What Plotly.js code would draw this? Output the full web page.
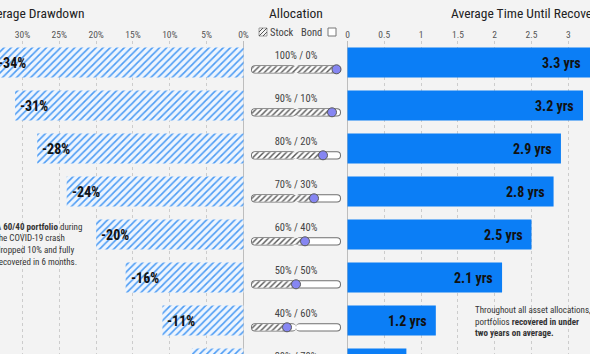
<!DOCTYPE html>
<html><head><meta charset="utf-8">
<script src="https://cdn.plot.ly/plotly-3.0.1.min.js"></script>
<style>
html,body{margin:0;padding:0;overflow:hidden;background:#f3f3f3;width:590px;height:354px;}
#chart{position:absolute;left:-200px;top:0;width:950px;height:540px;}
</style></head><body><div id="chart"></div>
<script>
// ---- data ----
const allocations = ['100% / 0%','90% / 10%','80% / 20%','70% / 30%','60% / 40%','50% / 50%','40% / 60%','30% / 70%'];
const stockShare = [100, 90, 80, 70, 60, 50, 40, 30];
const drawdown = [34, 31, 28, 24, 20, 16, 11, 7];
const recoveryYears = [3.3, 3.2, 2.9, 2.8, 2.5, 2.1, 1.2, 0.8];
const drawdownTicks = [30, 25, 20, 15, 10, 5, 0];
const drawdownTickText = ['30%','25%','20%','15%','10%','5%','0%'];
const recoveryTicks = [0, 0.5, 1, 1.5, 2, 2.5, 3, 3.5];
const recoveryTickText = ['0','0.5','1','1.5','2','2.5','3','3.5'];
const fullShare = 100;

// ---- geometry ----
const OFF = 200, W = 950, H = 540;
const TOP = 41, ROWH = 43, NSLOT = 11;
const PH = NSLOT * ROWH;
const fx = vx => (vx + OFF) / W;
const fy = vy => (TOP + PH - vy) / PH;
const aL = 7.367, zL = 243.5, dL0 = -60, dL1 = 245;
const aM = 0.9, zM = 251, dM0 = 245, dM1 = 346;
const aR = 73.6, zR = 347.5, dR0 = 346, dR1 = 740;

const COND = "'Roboto Condensed', Roboto, sans-serif";
const rows = stockShare.map((_, i) => i);
const half = fullShare / 2;
const inset = 1 / aM;
const trackW = 8.3 / ROWH, trackC = 6.8 / ROWH;
const innerW = trackW - 2 / ROWH;
const knob = stockShare.map(s => Math.min(s, fullShare - 5));

const traces = [
  {type:'bar', orientation:'h', x: drawdown, y: rows, xaxis:'x', yaxis:'y', width:0.7,
   marker:{color:'#eef5fe', line:{width:0}, pattern:{shape:'/', fgcolor:'#4d9cf4', bgcolor:'#eef5fe', size:5, solidity:0.32}},
   hoverinfo:'skip'},
  {type:'bar', orientation:'h', x: recoveryYears, y: rows, xaxis:'x3', yaxis:'y', width:0.7,
   marker:{color:'#0b7ef6', line:{width:0}}, hoverinfo:'skip'},
  // slider tracks (outline)
  {type:'bar', orientation:'h', xaxis:'x2', yaxis:'y', y: rows, base: half, x: rows.map(() => half),
   width: trackW, offset: trackC - trackW/2, marker:{color:'#707070', line:{width:0}, cornerradius:'50%'}, hoverinfo:'skip'},
  {type:'bar', orientation:'h', xaxis:'x2', yaxis:'y', y: rows, base: half, x: rows.map(() => -half),
   width: trackW, offset: trackC - trackW/2, marker:{color:'#707070', line:{width:0}, cornerradius:'50%'}, hoverinfo:'skip'},
  // slider tracks (fill)
  {type:'bar', orientation:'h', xaxis:'x2', yaxis:'y', y: rows, base: half, x: rows.map(() => half - inset),
   width: innerW, offset: trackC - innerW/2, marker:{color:'#ffffff', line:{width:0}, cornerradius:'50%'}, hoverinfo:'skip'},
  {type:'bar', orientation:'h', xaxis:'x2', yaxis:'y', y: rows, base: half, x: rows.map(() => -(half - inset)),
   width: innerW, offset: trackC - innerW/2, marker:{color:'#ffffff', line:{width:0}, cornerradius:'50%'}, hoverinfo:'skip'},
  // stock share hatch
  {type:'bar', orientation:'h', xaxis:'x2', yaxis:'y', y: rows, base: knob, x: knob.map(k => -(k - inset)),
   width: innerW, offset: trackC - innerW/2,
   marker:{color:'#ffffff', line:{width:0}, cornerradius:'50%', pattern:{shape:'/', fgcolor:'#555555', bgcolor:'#ffffff', size:4, solidity:0.35}},
   hoverinfo:'skip'},
  // knobs
  {type:'scatter', mode:'markers', xaxis:'x2', yaxis:'y', x: knob, y: rows.map(i => i + trackC),
   marker:{size:9, color:'#8686f2', line:{color:'#5a5a5a', width:1}}, hoverinfo:'skip'},
  // allocation labels
  {type:'scatter', mode:'text', xaxis:'x2', yaxis:'y', x: rows.map(() => half), y: rows.map(i => i - 0.14),
   text: allocations, textposition:'middle center', textfont:{family: COND, size:10.5, color:'#444'}, hoverinfo:'skip'}
];

const annotations = [];
drawdown.forEach((v, i) => annotations.push({xref:'x', yref:'y', x: v, y: i, text: '-' + v + '%',
  xanchor:'left', yanchor:'middle', xshift: 3, showarrow:false, font:{family: COND, size:14, color:'#111', weight:700}}));
recoveryYears.forEach((v, i) => annotations.push({xref:'x3', yref:'y', x: v, y: i, text: v.toFixed(1) + ' yrs',
  xanchor:'right', yanchor:'middle', xshift: -7, showarrow:false, font:{family: COND, size:14, color:'#111', weight:700}}));

function pa(text, vx, vy, anchor, font) {
  annotations.push({xref:'paper', yref:'paper', x: fx(vx), y: fy(vy), text, xanchor: anchor, yanchor:'middle', showarrow:false, font});
}
const titleFont = {family: COND, size:13.5, color:'#222'};
pa('Average Drawdown', 86, 12.5, 'right', titleFont);
pa('Allocation', 295.5, 12.5, 'center', titleFont);
pa('Average Time Until Recovery', 449.3, 12.5, 'left', titleFont);
const legFont = {family: COND, size:10.5, color:'#444'};
pa('Stock', 268, 32, 'left', legFont);
pa('Bond', 324, 32, 'right', legFont);
const noteFont = {family: COND, size:9, color:'#333'};
pa('A <b>60/40 portfolio</b> during', -6, 226.7, 'left', noteFont);
pa('the COVID-19 crash', -6, 238.3, 'left', noteFont);
pa('dropped 10% and fully', -6, 250, 'left', noteFont);
pa('recovered in 6 months.', -6, 261.7, 'left', noteFont);
pa('Throughout all asset allocations,', 473.3, 310, 'left', noteFont);
pa('portfolios <b>recovered in under</b>', 473.3, 321.7, 'left', noteFont);
pa('<b>two years on average.</b>', 473.3, 333.3, 'left', noteFont);

const shapes = [];
function prect(x0, y0, x1, y1, fill, line) {
  shapes.push({type:'rect', xref:'paper', yref:'paper', x0: fx(x0), x1: fx(x1), y0: fy(y0), y1: fy(y1), fillcolor: fill, line});
}
function pline(x0, y0, x1, y1) {
  shapes.push({type:'line', xref:'paper', yref:'paper', x0: fx(x0), x1: fx(x1), y0: fy(y0), y1: fy(y1), line:{color:'#555', width:1}});
}
prect(259, 28, 267, 36, 'rgba(0,0,0,0)', {color:'#888', width:0.8});
pline(259, 32, 263, 28); pline(259, 36, 267, 28); pline(263, 36, 267, 32);
prect(328, 28, 336, 36, '#ffffff', {color:'#777', width:1});

const axCommon = {side:'top', anchor:'y', ticks:'', showgrid:true, gridcolor:'#cccccc', griddash:'3px,3px', gridwidth:1,
  zeroline:true, zerolinecolor:'#bdbdbd', zerolinewidth:1, showline:false, tickfont:{family: COND, size:9.5, color:'#555'}, fixedrange:true};

const layout = {
  width: W, height: H, margin:{l:0, r:0, t:TOP, b:H - TOP - PH, pad:0},
  paper_bgcolor:'#f3f3f3', plot_bgcolor:'#f3f3f3', barmode:'overlay', showlegend:false,
  font:{family: COND, color:'#333'},
  xaxis: Object.assign({}, axCommon, {domain:[fx(dL0), fx(dL1)], range:[(zL - dL0)/aL, (zL - dL1)/aL],
    tickmode:'array', tickvals: drawdownTicks, ticktext: drawdownTickText}),
  xaxis2: {domain:[fx(dM0), fx(dM1)], range:[(dM0 - zM)/aM, (dM1 - zM)/aM], anchor:'y', visible:false, fixedrange:true},
  xaxis3: Object.assign({}, axCommon, {domain:[fx(dR0), fx(dR1)], range:[(dR0 - zR)/aR, (dR1 - zR)/aR],
    tickmode:'array', tickvals: recoveryTicks, ticktext: recoveryTickText}),
  yaxis: {range:[NSLOT - 0.5, -0.5], visible:false, fixedrange:true},
  annotations, shapes
};
Plotly.newPlot('chart', traces, layout, {staticPlot:true, displayModeBar:false});
</script></body></html>
